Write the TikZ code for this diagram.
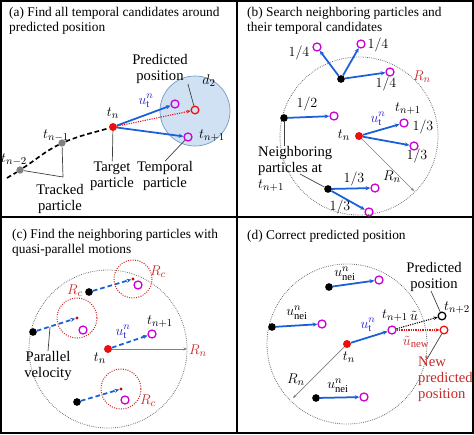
\documentclass[tikz,border=0pt]{standalone}
\usepackage{fontspec}
\setmainfont{Liberation Serif}
\usepackage{amsmath}
\usepackage{tikz}
\usetikzlibrary{arrows.meta, positioning, calc}

\definecolor{velblue}{RGB}{25,95,215}
\definecolor{candmag}{RGB}{205,0,215}
\definecolor{tgtred}{RGB}{235,15,15}
\definecolor{labred}{RGB}{200,40,40}
\definecolor{ublue}{RGB}{45,40,205}
\definecolor{zonefill}{RGB}{208,225,243}
\definecolor{zoneline}{RGB}{115,155,195}

\begin{document}
\begin{tikzpicture}[x=0.3mm, y=-0.3mm,
    every node/.style={font=\fontsize{12.5}{13.6}\selectfont, inner sep=0pt},
    paneltitle/.style={anchor=north west, align=left, font=\fontsize{11.4}{13}\selectfont},
    txt/.style={align=center},
    mlab/.style={font=\fontsize{13}{15}\selectfont},
    target/.style={circle, fill=tgtred, minimum size=2.4mm},
    neigh/.style={circle, fill=black, minimum size=2.3mm},
    tracked/.style={circle, fill=gray, minimum size=2.2mm},
    cand/.style={circle, draw=candmag, line width=1.1pt, minimum size=2.4mm},
    predpt/.style={circle, line width=1.1pt, minimum size=2.3mm},
    cdot/.style={circle, fill=tgtred!80!black, minimum size=1mm},
    zone/.style={circle, draw=zoneline, fill=zonefill, line width=0.6pt, minimum size=21mm},
    vel/.style={-{Stealth[length=4pt, width=3.5pt]}, velblue, line width=1.5pt},
    veldash/.style={vel, dash pattern=on 4pt off 2.5pt},
    pred/.style={-{Stealth[length=3.5pt, width=3pt]}, line width=0.9pt, dash pattern=on 1pt off 1pt},
    track/.style={black, line width=1.4pt, dash pattern=on 4pt off 2.5pt},
    lead/.style={black!75, line width=0.6pt},
    rad/.style={-{Stealth[length=3pt, width=2.6pt]}, gray, line width=0.6pt},
    rangecirc/.style={gray!80!black, line width=0.7pt, dash pattern=on 0.6pt off 1pt},
    rcirc/.style={labred, line width=0.9pt, dash pattern=on 0.8pt off 1.2pt}]

    \useasboundingbox (0,0) rectangle (474,434);

    % Panel frames
    \draw[line width=1.6pt] (1,1) rectangle (473,433);
    \draw[line width=1.2pt] (237,1) -- (237,433);
    \draw[line width=1.2pt] (1,217) -- (473,217);

    % ---------------- (a) ----------------
    \node[paneltitle] (a-title) at (9,7) {(a) Find all temporal candidates around\\predicted position};

    % Search zone around predicted position
    \node[zone] (a-zone) at (195,111) {};

    % Trajectory
    \coordinate (a-tail) at (7,178);
    \node[tracked] (a-nm2) at (20,170) {};
    \node[tracked] (a-nm1) at (62,143) {};
    \node[target] (a-tn) at (113,127) {};
    \draw[track] (a-tail) to[out=33, in=213] (a-nm2) to[out=33, in=207] (a-nm1) to[out=22, in=196] (a-tn);

    % Candidates
    \node[cand] (a-c1) at (175,104) {};
    \node[cand] (a-c2) at (188,137) {};
    \node[predpt, draw=tgtred] (a-pred) at (195,110) {};
    \draw[vel] (a-tn) -- (a-c1);
    \draw[vel] (a-tn) -- (a-c2);
    \draw[pred, tgtred] (a-tn) -- (a-pred);

    % Labels
    \node[mlab] (a-lnm2) at (14,160) {$t_{n-2}$};
    \node[mlab] (a-lnm1) at (56,136) {$t_{n-1}$};
    \node[mlab] (a-ltn) at (113,113) {$t_n$};
    \node[mlab, text=ublue] (a-lu) at (146,101) {$u_{\mathrm{t}}^n$};
    \node[mlab] (a-ld) at (209,81) {$d_2$};
    \node[mlab] (a-lnp1) at (212,136) {$t_{n+1}$};
    \node[txt] (a-predlab) at (160,69) {Predicted\\position};
    \draw[lead] (a-predlab.south east) -- (a-pred);
    \node[txt] (a-tgtlab) at (112,176) {Target\\particle};
    \draw[lead] (a-tn) -- (a-tgtlab);
    \node[txt] (a-tmplab) at (165,176) {Temporal\\particle};
    \draw[lead] (a-tmplab.north) -- (a-c2);
    \node[txt] (a-trklab) at (60,199) {Tracked\\particle};
    \coordinate (a-trk) at (63,177);
    \draw[lead] (a-nm2) -- (a-trk) -- (a-nm1);

    % ---------------- (b) ----------------
    \node[paneltitle] (b-title) at (247,7) {(b) Search neighboring particles and\\their temporal candidates};

    \node[target] (b-tn) at (359,136) {};
    \draw[rangecirc] (b-tn) circle[radius=79];
    \coordinate (b-rim) at (414,191);
    \draw[rad] (b-tn) -- (b-rim);

    % Target candidates
    \node[cand] (b-c1) at (404,123) {};
    \node[cand] (b-c2) at (414,146) {};
    \draw[vel] (b-tn) -- (b-c1);
    \draw[vel] (b-tn) -- (b-c2);

    % Neighbor 1
    \node[neigh] (b-n1) at (341,79) {};
    \node[cand] (b-c11) at (317,47) {};
    \node[cand] (b-c12) at (361,44) {};
    \node[cand] (b-c13) at (390,72) {};
    \draw[vel] (b-n1) -- (b-c11);
    \draw[vel] (b-n1) -- (b-c12);
    \draw[vel] (b-n1) -- (b-c13);

    % Neighbor 2
    \node[neigh] (b-n2) at (284,118) {};
    \node[cand] (b-c21) at (334,116) {};
    \draw[vel] (b-n2) -- (b-c21);

    % Neighbor 3
    \node[neigh] (b-n3) at (328,189) {};
    \node[cand] (b-c31) at (375,188) {};
    \node[cand] (b-c32) at (369,212) {};
    \draw[vel] (b-n3) -- (b-c31);
    \draw[vel] (b-n3) -- (b-c32);

    % Labels
    \node[mlab] (b-w11) at (299,53) {$1/4$};
    \node[mlab] (b-w12) at (378,45) {$1/4$};
    \node[mlab] (b-w13) at (386,84) {$1/4$};
    \node[mlab] (b-w21) at (307,104) {$1/2$};
    \node[mlab] (b-w31) at (354,179) {$1/3$};
    \node[mlab] (b-w32) at (340,207) {$1/3$};
    \node[mlab] (b-w1) at (423,127) {$1/3$};
    \node[mlab] (b-w2) at (417,156) {$1/3$};
    \node[mlab, text=labred] (b-lr1) at (422,77) {$R_n$};
    \node[mlab] (b-lr2) at (392,177) {$R_n$};
    \node[mlab] (b-ltn) at (344,135) {$t_n$};
    \node[mlab, text=ublue] (b-lu) at (378,119) {$u_{\mathrm{t}}^n$};
    \node[mlab] (b-lnp1) at (408,109) {$t_{n+1}$};
    \node[anchor=west, align=left] (b-neilab) at (258,169) {Neighboring\\particles at\\$t_{n+1}$};
    \draw[lead] (b-n2) -- (b-n2 |- b-neilab.north);
    \coordinate (b-leadst) at (300,174);
    \draw[lead] (b-leadst) -- (b-n3);

    % ---------------- (c) ----------------
    \node[paneltitle] (c-title) at (12,229) {(c) Find the neighboring particles with\\quasi-parallel motions};

    \node[target] (c-tn) at (108,349) {};
    \draw[rangecirc] (c-tn) circle[radius=79];
    \coordinate (c-rim) at (187,349);
    \draw[rad] (c-tn) -- (c-rim);
    \node[cand] (c-c1) at (152,334) {};
    \draw[veldash] (c-tn) -- (c-c1);

    % Neighbor A
    \node[neigh] (c-n1) at (89,292) {};
    \node[cdot] (c-p1) at (133,279) {};
    \node[cand] (c-c11) at (138,285) {};
    \draw[rcirc] (c-p1) circle[radius=19];
    \draw[veldash] (c-n1) -- (c-p1);

    % Neighbor B
    \node[neigh] (c-n2) at (33,332) {};
    \node[cdot] (c-p2) at (77,318) {};
    \node[cand] (c-c21) at (83,330) {};
    \draw[rcirc] (c-p2) circle[radius=20];
    \draw[veldash] (c-n2) -- (c-p2);

    % Neighbor C
    \node[neigh] (c-n3) at (77,402) {};
    \node[cdot] (c-p3) at (121,389) {};
    \node[cand] (c-c31) at (125,400) {};
    \draw[rcirc] (c-p3) circle[radius=20];
    \draw[veldash] (c-n3) -- (c-p3);

    % Labels
    \node[mlab, text=labred] (c-lrc1) at (158,272) {$R_c$};
    \node[mlab, text=labred] (c-lrc2) at (75,291) {$R_c$};
    \node[mlab, text=labred] (c-lrc3) at (148,401) {$R_c$};
    \node[mlab, text=labred] (c-lrn) at (198,351) {$R_n$};
    \node[mlab] (c-ltn) at (100,358) {$t_n$};
    \node[mlab, text=ublue] (c-lu) at (123,332) {$u_{\mathrm{t}}^n$};
    \node[mlab] (c-lnp1) at (160,322) {$t_{n+1}$};
    \node[txt] (c-parlab) at (48,366) {Parallel\\velocity};
    \coordinate (c-parpt) at (50,327);
    \draw[lead] (c-parlab.north) -- (c-parpt);

    % ---------------- (d) ----------------
    \node[paneltitle] (d-title) at (247,230) {(d) Correct predicted position};

    \node[target] (d-tn) at (347,344) {};
    \draw[rangecirc] (d-tn) circle[radius=80];
    \coordinate (d-rim) at (293,398);
    \draw[rad] (d-tn) -- (d-rim);
    \node[cand] (d-c1) at (392,330) {};
    \draw[vel] (d-tn) -- (d-c1);

    % Predicted positions
    \node[predpt, draw=black] (d-pred) at (442,316) {};
    \node[predpt, draw=tgtred] (d-new) at (444,330) {};
    \draw[pred, black] (d-c1) -- (d-pred);
    \draw[pred, tgtred] (d-c1) -- (d-new);

    % Neighbors
    \node[neigh] (d-n1) at (329,287) {};
    \node[cand] (d-c11) at (379,280) {};
    \draw[vel] (d-n1) -- (d-c11);
    \node[neigh] (d-n2) at (272,327) {};
    \node[cand] (d-c21) at (322,324) {};
    \draw[vel] (d-n2) -- (d-c21);
    \node[neigh] (d-n3) at (316,398) {};
    \node[cand] (d-c31) at (364,397) {};
    \draw[vel] (d-n3) -- (d-c31);

    % Labels
    \node[mlab] (d-lu1) at (345,274) {$u_{\mathrm{nei}}^n$};
    \node[mlab] (d-lu2) at (297,313) {$u_{\mathrm{nei}}^n$};
    \node[mlab] (d-lu3) at (338,386) {$u_{\mathrm{nei}}^n$};
    \node[mlab] (d-lrn) at (296,380) {$R_n$};
    \node[mlab] (d-ltn) at (349,357) {$t_n$};
    \node[mlab, text=ublue] (d-lu) at (368,325) {$u_{\mathrm{t}}^n$};
    \node[mlab] (d-lnp1) at (395,316) {$t_{n+1}$};
    \node[mlab] (d-lnp2) at (457,308) {$t_{n+2}$};
    \node[mlab] (d-lut) at (414,316) {$\tilde{u}$};
    \node[mlab, text=labred] (d-lun) at (416,342) {$\tilde{u}_{\mathrm{new}}$};
    \node[txt] (d-predlab) at (434,277) {Predicted\\position};
    \coordinate (d-predst) at (431,291);
    \draw[lead] (d-predst) -- (d-pred);
    \node[anchor=west, align=left, text=labred] (d-newlab) at (418,379) {New\\predicted\\position};
    \coordinate (d-newst) at (427,359);
    \draw[lead] (d-new) -- (d-newst);

\end{tikzpicture}
\end{document}
